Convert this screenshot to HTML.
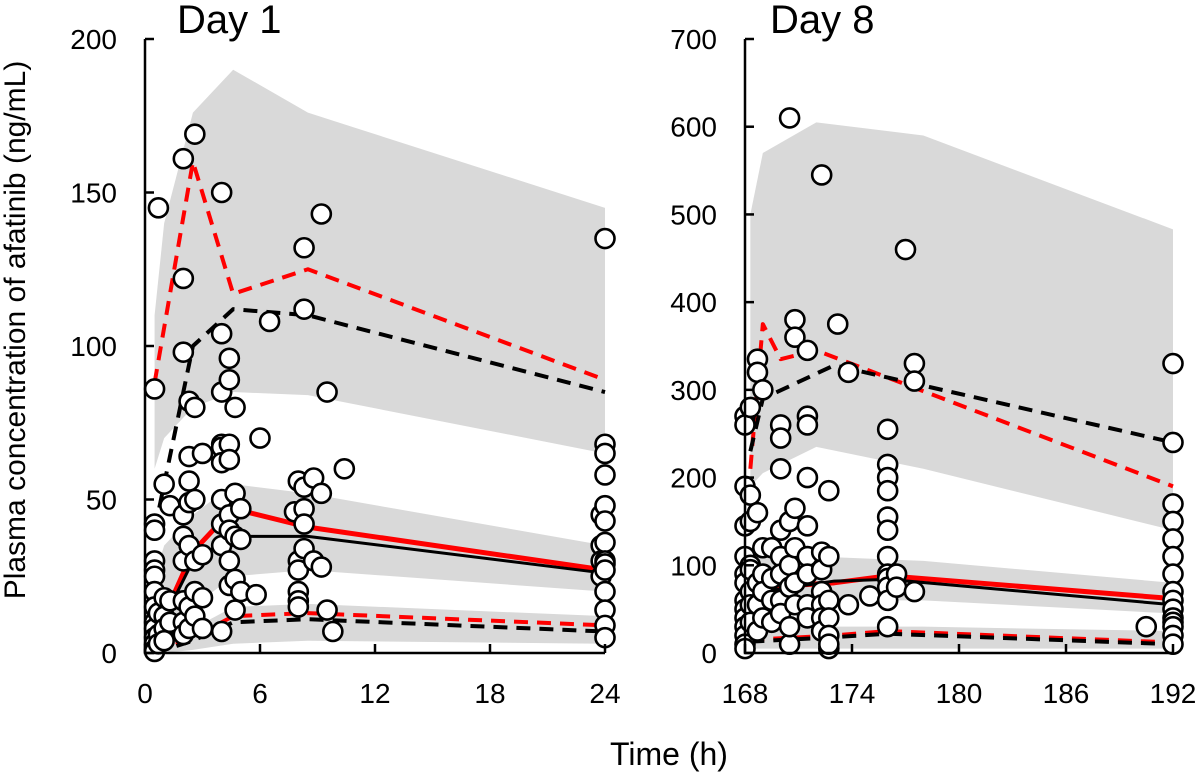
<!DOCTYPE html>
<html><head><meta charset="utf-8">
<style>
html,body{margin:0;padding:0;background:#fff;}
svg{display:block;font-family:"Liberation Sans",Arial,sans-serif;}
</style></head>
<body>
<svg id="chart" width="1200" height="776" viewBox="0 0 1200 776" xmlns="http://www.w3.org/2000/svg">
<g id="p1"></g>
<g id="p2"></g>
<text transform="translate(25,330) rotate(-90)" text-anchor="middle" font-size="30">Plasma concentration of afatinib (ng/mL)</text>
<text x="669" y="765" text-anchor="middle" font-size="32">Time (h)</text>
</svg>
<script>
// ---- Day 1 data ----
const d1Ticks = [0,6,12,18,24];
const d1YTicks = [0,50,100,150,200];
const d1BandT = [0.5,1,2.5,4.6,8.5,24];
const d1UpHi = [110,140,176,190,176,145];
const d1UpLo = [60,70,80,85,84,65];
const d1MedHi = [25,35,45,55,52,35];
const d1MedLo = [5,8,15,25,27,20];
const d1LowHi = [3,5,8,15,16,12];
const d1LowLo = [0,0,1,3,4,3];
const d1LineT = [0.5,2.5,4.6,8.5,24];
const d1ObsP95 = [88,160,117,125,89];
const d1SimP95T = [0.5,1,2.5,4.6,8.5,24];
const d1SimP95 = [40,55,100,112,110,85];
const d1ObsMed = [5,33,47,41,27];
const d1SimMed = [5,30,38,38,26];
const d1ObsP5 = [0,5,12,13,9];
const d1SimP5 = [0,4,10,11,7];
const d1Groups = [
[0.5,[86,42,40,30,27,25,20,15,10,8,5,3,1,0.5]],[0.7,[145,13,6,3]],[1.0,[55,18,12,8,4]],[1.3,[48,17,10]],
[2.0,[161,122,98,45,38,30,17,10,6]],[2.3,[82,64,56,49,35,15,8]],[2.6,[169,80,50,30,20,12]],[3.0,[65,32,18,8]],
[4.0,[150,104,85,68,67,62,50,42,35,7]],[4.4,[96,89,68,63,45,40,30,22]],[4.7,[80,52,38,24,14]],[5.0,[47,37,20]],
[5.8,[19]],[6.0,[70]],[6.5,[108]],[7.8,[46]],[8.0,[56,30,27,20,17,15]],[8.3,[132,112,54,47,42,34]],[8.8,[57,30]],
[9.2,[143,52,28]],[9.5,[85,14]],[9.8,[7]],[10.4,[60]],[23.8,[45,35,30,25]],[24,[135,68,65,58,48,43,36,30,29,27,20,14,9,5]]];
// ---- Day 8 data ----
const d8Ticks = [168,174,180,186,192];
const d8YTicks = [0,100,200,300,400,500,600,700];
const d8BandT = [168.3,169,172,178,192];
const d8UpHi = [500,570,605,590,483];
const d8UpLo = [190,205,235,210,140];
const d8MedHi = [120,120,110,105,80];
const d8MedLo = [20,50,60,60,45];
const d8LowHi = [30,30,30,30,25];
const d8LowLo = [5,5,5,5,5];
const d8ObsP95T = [168.3,169,170,172,192];
const d8ObsP95 = [210,375,335,345,190];
const d8SimP95T = [168.3,169,173,192];
const d8SimP95 = [230,290,328,240];
const d8MedT = [168.3,169,173,176,192];
const d8ObsMed = [60,75,80,88,62];
const d8SimMed = [55,70,82,84,55];
const d8P5T = [168.3,173,176,192];
const d8ObsP5 = [15,20,25,12];
const d8SimP5 = [13,18,22,10];
const d8Groups = [
[168.0,[270,260,190,145,110,90,80,60,50,40,30,20,10,5]],[168.3,[280,180,150,100,95,70,55,35]],
[168.7,[335,320,160,80,55,25]],[169.0,[300,120,90,70,40]],[169.5,[120,85,60,35]],
[170,[260,245,210,140,110,90,60,45]],[170.5,[610,10,150,100,75,30]],[170.8,[380,360,165,120,80,55]],
[171.5,[345,270,260,200,145,110,90,55,40]],[172.3,[545,115,95,70,55,40,25]],[172.7,[185,110,60,40,20,5,10]],
[173.2,[375]],[173.8,[320,55]],[175,[65]],[176,[255,215,200,185,155,140,110,90,85,75,60,30]],
[176.5,[90,75]],[177,[460]],[177.5,[330,310,70]],[190.5,[30]],[192,[330,240,170,150,130,110,90,70,60,50,40,35,30,20,10]]];

const NS='http://www.w3.org/2000/svg';
function mk(parent,tag,attrs){const e=document.createElementNS(NS,tag);for(const k in attrs)e.setAttribute(k,attrs[k]);parent.appendChild(e);return e;}

function panel(g,cfg){
  const sx=t=>cfg.x0+(t-cfg.t0)/(cfg.t1-cfg.t0)*(cfg.x1-cfg.x0);
  const sy=v=>cfg.y0-(v-cfg.v0)/(cfg.v1-cfg.v0)*(cfg.y0-cfg.y1);
  function band(T,hi,lo,name){
    let d='M'+T.map((t,i)=>sx(t)+','+sy(hi[i])).join(' L');
    for(let i=T.length-1;i>=0;i--)d+=' L'+sx(T[i])+','+sy(lo[i]);
    const p=mk(g,'path',{d:d+'Z',fill:'#d9d9d9'});
    
    
  }
  band(cfg.bandT,cfg.upHi,cfg.upLo,'p95-prediction-band');
  band(cfg.bandT,cfg.medHi,cfg.medLo,'median-prediction-band');
  band(cfg.bandT,cfg.lowHi,cfg.lowLo,'p5-prediction-band');
  function line(T,V,color,w,dash,name){
    const p=mk(g,'polyline',{points:T.map((t,i)=>sx(t)+','+sy(V[i])).join(' '),fill:'none',stroke:color,'stroke-width':w,'stroke-linejoin':'round'});
    if(dash)p.setAttribute('stroke-dasharray',dash);
    
    
  }
  for(const L of cfg.lines)line(L[0],L[1],L[2],L[3],L[4],L[5]);
  for(const gr of cfg.groups){for(const v of gr[1]){
    const c=mk(g,'circle',{cx:sx(gr[0]),cy:sy(v),r:9.5,fill:'#fff',stroke:'#000','stroke-width':2.6});
    
    
  }}
  const ax=mk(g,'path',{d:`M${cfg.x0},${cfg.y1} V${cfg.y0} H${cfg.x1}`,fill:'none',stroke:'#000','stroke-width':2.5});
  
  
  for(const v of cfg.yticks){
    mk(g,'line',{x1:cfg.x0,x2:cfg.x0+9,y1:sy(v),y2:sy(v),stroke:'#000','stroke-width':2.5});
    const t=mk(g,'text',{x:cfg.x0-28,y:sy(v)+10,'text-anchor':'end','font-size':28});
    t.textContent=v;
    
    
  }
  for(const v of cfg.xticks){
    mk(g,'line',{x1:sx(v),x2:sx(v),y1:cfg.y0,y2:cfg.y0-9,stroke:'#000','stroke-width':2.5});
    const t=mk(g,'text',{x:sx(v),y:cfg.y0+50,'text-anchor':'middle','font-size':28});
    t.textContent=v;
    
    
  }
  const ti=mk(g,'text',{x:cfg.titleX,y:33,'font-size':40});
  ti.textContent=cfg.title;
  
  
}
const RED='#ff0000',BLK='#000';
panel(document.getElementById('p1'),{x0:145,x1:605,t0:0,t1:24,y0:653,y1:39,v0:0,v1:200,
 bandT:d1BandT,upHi:d1UpHi,upLo:d1UpLo,medHi:d1MedHi,medLo:d1MedLo,lowHi:d1LowHi,lowLo:d1LowLo,
 lines:[[d1LineT,d1ObsMed,RED,5,null,'observed-median-line'],[d1LineT,d1SimMed,BLK,3,null,'simulated-median-line'],
  [d1LineT,d1ObsP95,RED,4,'14 9','observed-p95-line'],[d1SimP95T,d1SimP95,BLK,4,'14 9','simulated-p95-line'],
  [d1LineT,d1ObsP5,RED,4,'14 9','observed-p5-line'],[d1LineT,d1SimP5,BLK,4,'14 9','simulated-p5-line']],
 groups:d1Groups,xticks:d1Ticks,yticks:d1YTicks,title:'Day 1',titleX:177});
panel(document.getElementById('p2'),{x0:745,x1:1173,t0:168,t1:192,y0:653,y1:39,v0:0,v1:700,
 bandT:d8BandT,upHi:d8UpHi,upLo:d8UpLo,medHi:d8MedHi,medLo:d8MedLo,lowHi:d8LowHi,lowLo:d8LowLo,
 lines:[[d8MedT,d8ObsMed,RED,5,null,'observed-median-line'],[d8MedT,d8SimMed,BLK,3,null,'simulated-median-line'],
  [d8ObsP95T,d8ObsP95,RED,4,'14 9','observed-p95-line'],[d8SimP95T,d8SimP95,BLK,4,'14 9','simulated-p95-line'],
  [d8P5T,d8ObsP5,RED,4,'14 9','observed-p5-line'],[d8P5T,d8SimP5,BLK,4,'14 9','simulated-p5-line']],
 groups:d8Groups,xticks:d8Ticks,yticks:d8YTicks,title:'Day 8',titleX:770});
</script>
</body></html>
